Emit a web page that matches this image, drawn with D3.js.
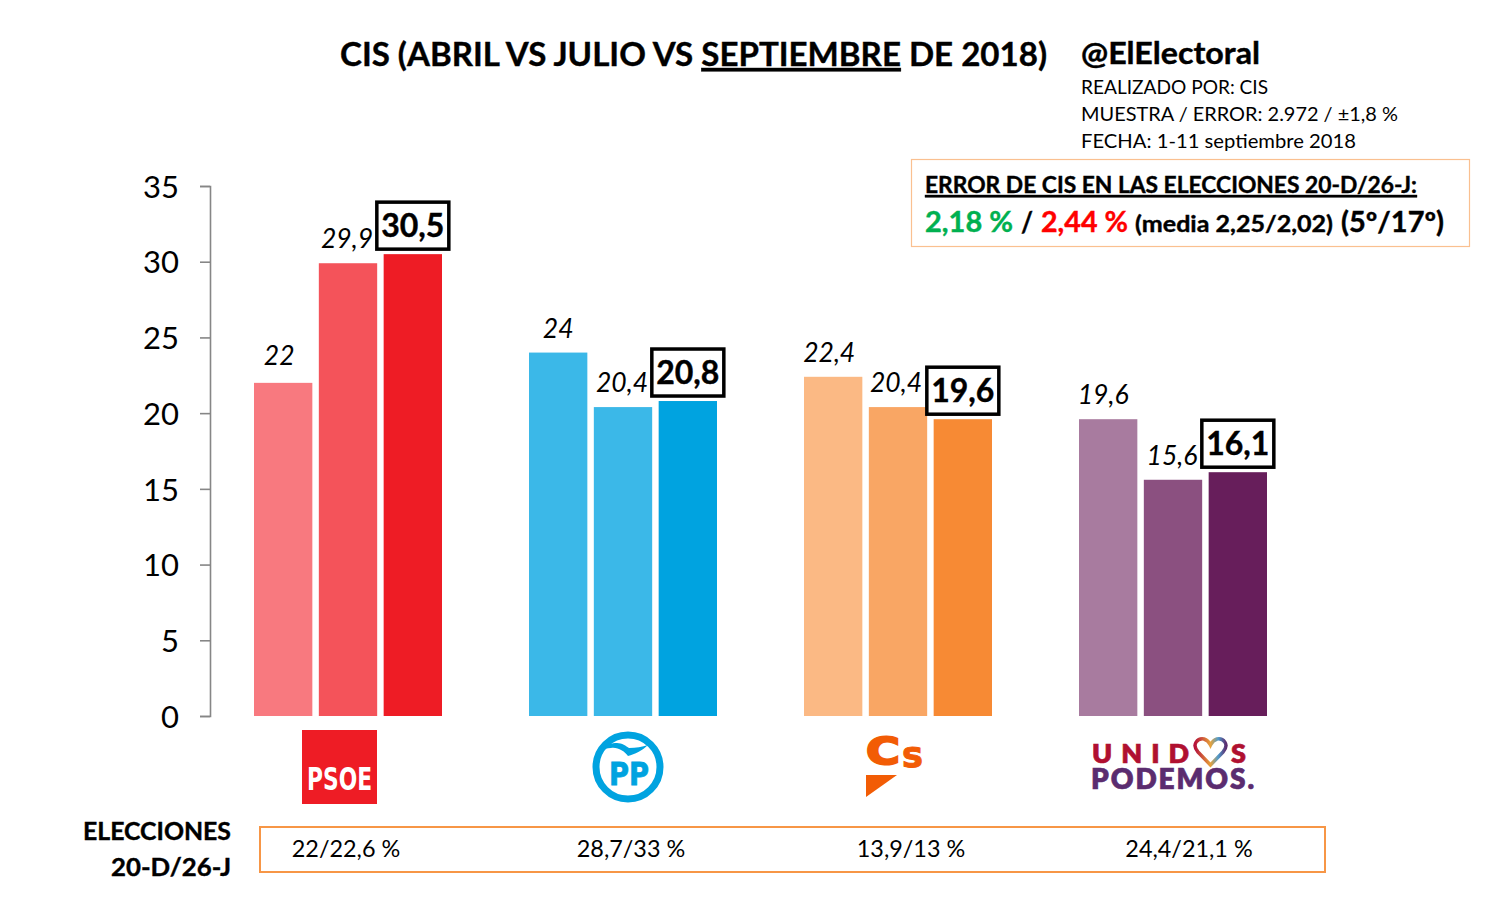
<!DOCTYPE html>
<html>
<head>
<meta charset="utf-8">
<script src="https://cdn.jsdelivr.net/npm/d3@7"></script>
<style>
html, body { margin: 0; padding: 0; background: #fff; }
text { font-family: Lato, "Open Sans", sans-serif; fill: #000; }
</style>
</head>
<body>
<svg id="chart" width="1490" height="911"></svg>
<script>
// values
const parties = ["PSOE", "PP", "Cs", "Unidos Podemos"];
const waves = ["Abril", "Julio", "Septiembre"];
const abril = [22, 24, 22.4, 19.6];
const julio = [29.9, 20.4, 20.4, 15.6];
const septiembre = [30.5, 20.8, 19.6, 16.1];
const elecciones = ["22/22,6 %", "28,7/33 %", "13,9/13 %", "24,4/21,1 %"];
const yTicks = [0, 5, 10, 15, 20, 25, 30, 35];
const partyColors = [
    ["#F8797F", "#F4535A", "#EE1C25"],
    ["#3BB8E8", "#3BB8E8", "#00A3E0"],
    ["#FBB984", "#F9A664", "#F78A34"],
    ["#A87B9F", "#8B5080", "#671E5B"]
];
const seriesValues = [abril, julio, septiembre];

// hand placement of the italic labels, as they sit in the picture
const labelShift = [
    [[-4, -3], [-1, 0]],
    [[0, 0], [-1, 0]],
    [[-4, 0], [-2, 0]],
    [[-5, 0], [-1, 0]]
];

const svg = d3.select("#chart");
const fmt = v => String(v).replace(".", ",");

const x = d3.scaleBand().domain(parties).range([211, 1311]);
const xInner = d3.scaleBand().domain(waves).range([43, 231]).paddingInner(0.1);
const y = d3.scaleLinear().domain([0, 35]).range([716, 186]);

// squeeze the font to the width the text has in the picture
function fit(sel, w) {
    return sel.attr("textLength", w).attr("lengthAdjust", "spacingAndGlyphs");
}

// axis
const axis = svg.append("g")
    .attr("transform", "translate(210,0)")
    .call(d3.axisLeft(y).tickValues(yTicks).tickSize(10).tickPadding(21));
axis.selectAll("path, line").attr("stroke", "#868686").attr("stroke-width", 1.6);
axis.selectAll("text").attr("font-size", 31).attr("font-family", "Lato").attr("dy", "0.36em");

// bars
parties.forEach((p, i) => {
    waves.forEach((w, j) => {
        const v = seriesValues[j][i];
        const bx = x(p) + xInner(w);
        svg.append("rect")
            .attr("x", bx).attr("y", y(v))
            .attr("width", xInner.bandwidth()).attr("height", y(0) - y(v))
            .attr("fill", partyColors[i][j]);

        const cx = bx + xInner.bandwidth() / 2;
        if (j < 2) {
            const s = labelShift[i][j];
            svg.append("text")
                .attr("x", cx + s[0]).attr("y", y(v) - 15 + s[1])
                .attr("text-anchor", "middle")
                .attr("font-size", 26.5).attr("font-style", "italic")
                .text(fmt(v));
        } else {
            svg.append("rect")
                .attr("x", cx - 36).attr("y", y(v) - 52)
                .attr("width", 72).attr("height", 47)
                .attr("fill", "#fff").attr("stroke", "#000").attr("stroke-width", 3.5);
            svg.append("text")
                .attr("x", cx).attr("y", y(v) - 17)
                .attr("text-anchor", "middle")
                .attr("font-size", 32).attr("font-weight", 700)
                .text(fmt(v));
        }
    });
});

// title
const title = svg.append("text").attr("x", 340).attr("y", 66)
    .attr("font-size", 33).attr("font-weight", 700);
fit(title, 707);
title.append("tspan").text("CIS (ABRIL VS JULIO VS ");
title.append("tspan").attr("text-decoration", "underline").text("SEPTIEMBRE");
title.append("tspan").text(" DE 2018)");

// source block
fit(svg.append("text").attr("x", 1081).attr("y", 64)
    .attr("font-size", 30).attr("font-weight", 700).text("@ElElectoral"), 179);
const metaLines = [
    ["REALIZADO POR: CIS", 187, 94],
    ["MUESTRA / ERROR: 2.972 / ±1,8 %", 317, 121],
    ["FECHA: 1-11 septiembre 2018", 275, 148]
];
metaLines.forEach(m => {
    fit(svg.append("text").attr("x", 1081).attr("y", m[2])
        .attr("font-size", 20).attr("fill", "#222").text(m[0]), m[1]);
});

// error box
svg.append("rect").attr("x", 911.5).attr("y", 159.5).attr("width", 558).attr("height", 87)
    .attr("fill", "#fff").attr("stroke", "#FAC090").attr("stroke-width", 1.2);
fit(svg.append("text").attr("x", 925).attr("y", 193)
    .attr("font-size", 23).attr("font-weight", 700).attr("text-decoration", "underline")
    .text("ERROR DE CIS EN LAS ELECCIONES 20-D/26-J:"), 492);
const errParts = [
    ["2,18 %", 925, 88, 28, "#00B050"],
    ["/", 1021, 12, 28, "#000"],
    ["2,44 %", 1041, 87, 28, "#FF0000"],
    ["(media 2,25/2,02)", 1135, 198, 23, "#000"],
    ["(5º/17º)", 1341, 103, 28, "#000"]
];
errParts.forEach(e => {
    fit(svg.append("text").attr("x", e[1]).attr("y", 232)
        .attr("font-size", e[3]).attr("font-weight", 700).style("fill", e[4]).text(e[0]), e[2]);
});

// elections row
svg.append("rect").attr("x", 260).attr("y", 827).attr("width", 1065).attr("height", 45)
    .attr("fill", "#fff").attr("stroke", "#F79646").attr("stroke-width", 2);
const eleccionesX = [346, 631, 911, 1189];
elecciones.forEach((t, i) => {
    svg.append("text").attr("x", eleccionesX[i]).attr("y", 857)
        .attr("text-anchor", "middle").attr("font-size", 23.4).text(t);
});
fit(svg.append("text").attr("x", 83).attr("y", 840)
    .attr("font-size", 25).attr("font-weight", 700).text("ELECCIONES"), 148);
fit(svg.append("text").attr("x", 111).attr("y", 876)
    .attr("font-size", 25).attr("font-weight", 700).text("20-D/26-J"), 120);

// heavier strokes: Calibri bold is darker than Lato bold
svg.selectAll("text").filter(function () { return d3.select(this).attr("font-weight") == 700; })
    .each(function () {
        d3.select(this).style("stroke", d3.select(this).style("fill")).style("stroke-width", 0.4);
    });

// logos
const logoFont = "'DejaVu Sans'";
const psoe = svg.append("g");
psoe.append("rect").attr("x", 302).attr("y", 730).attr("width", 75).attr("height", 74).attr("fill", "#EE1C25");
fit(psoe.append("text").attr("x", 307).attr("y", 790).style("font-family", logoFont)
    .style("fill", "#fff").attr("font-size", 32).attr("font-weight", 800).text("PSOE"), 65);

const pp = svg.append("g");
pp.append("circle").attr("cx", 628).attr("cy", 767).attr("r", 32)
    .attr("fill", "none").attr("stroke", "#00A3E0").attr("stroke-width", 7);
pp.append("path")
    .attr("d", "M601,750 C606,744 612,743 617,743 C622,743 626,746 629,748 C636,748 642,747 648,745 C642,751 635,754 628,756 C624,751 618,747 611,748 C607,748 604,749 601,750 Z")
    .attr("fill", "#00A3E0");
fit(pp.append("text").attr("x", 609).attr("y", 785).style("font-family", logoFont)
    .style("fill", "#00A3E0").style("stroke", "#00A3E0").style("stroke-width", 0.8)
    .attr("font-size", 32).attr("font-weight", 800).text("PP"), 40);

const cs = svg.append("g");
fit(cs.append("text").attr("x", 866).attr("y", 764).style("font-family", logoFont)
    .style("fill", "#F25C05").style("stroke", "#F25C05").style("stroke-width", 2)
    .attr("font-size", 38).attr("font-weight", 800).text("C"), 34);
fit(cs.append("text").attr("x", 902).attr("y", 767).style("font-family", logoFont)
    .style("fill", "#F25C05").style("stroke", "#F25C05").style("stroke-width", 1)
    .attr("font-size", 35).attr("font-weight", 800).text("s"), 21);
cs.append("path").attr("d", "M866,775 L897,775 L866,797 Z").attr("fill", "#F25C05");

const up = svg.append("g");
const heartGrad = svg.append("defs").append("linearGradient").attr("id", "heartGrad")
    .attr("x1", 0).attr("y1", 0).attr("x2", 1).attr("y2", 0);
heartGrad.append("stop").attr("offset", "0").attr("stop-color", "#B5123A");
heartGrad.append("stop").attr("offset", "0.5").attr("stop-color", "#E8A33A");
heartGrad.append("stop").attr("offset", "0.75").attr("stop-color", "#4F9BCB");
heartGrad.append("stop").attr("offset", "1").attr("stop-color", "#5B2C6F");
// one text element: the two rows of the logo are tightly stacked
const upText = up.append("text").attr("font-weight", 800).style("stroke-width", 0.6);
upText.append("tspan").attr("x", 1092).attr("y", 763).attr("font-size", 27)
    .attr("letter-spacing", 9).style("fill", "#B01030").style("stroke", "#B01030").text("UNID");
upText.append("tspan").attr("x", 1231).attr("y", 763).attr("font-size", 27)
    .style("fill", "#B01030").style("stroke", "#B01030").text("S");
upText.append("tspan").attr("x", 1091).attr("y", 789).attr("font-size", 28)
    .attr("letter-spacing", 1.9).style("fill", "#5B2C6F").style("stroke", "#5B2C6F").text("PODEMOS.");
up.append("path")
    .attr("d", "M1210.5,765 L1198,752 C1191,744 1198,738 1204,739 C1207,740 1209,742 1210.5,745 C1212,742 1214,740 1217,739 C1223,738 1230,744 1223,752 Z")
    .attr("fill", "none").attr("stroke", "url(#heartGrad)").attr("stroke-width", 3.5);
</script>
</body>
</html>
